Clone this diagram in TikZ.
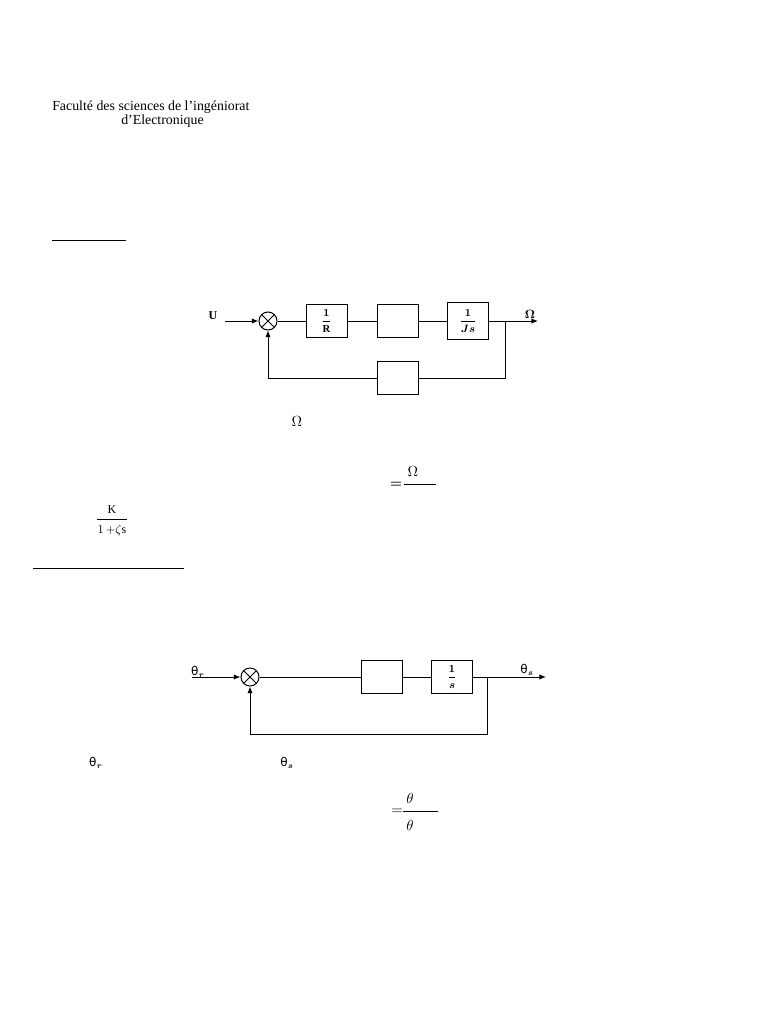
\documentclass[tikz,border=0pt]{standalone}
\usepackage{fontspec}
\usepackage{amsmath,bm}
\setmainfont{Liberation Serif}
\newfontfamily\djv{DejaVu Sans}
\usetikzlibrary{arrows.meta}
\begin{document}
\begin{tikzpicture}[x=0.75pt,y=-0.75pt,
  blk/.style={draw,line width=0.75pt,minimum width=30.75pt,minimum height=24.75pt,inner sep=0pt,font=\fontsize{8}{9}\selectfont},
  sumnode/.style={draw,circle,line width=0.75pt,minimum size=13.5pt,inner sep=0pt,
    path picture={\draw[line width=0.75pt] (path picture bounding box.south west)--(path picture bounding box.north east)
      (path picture bounding box.north west)--(path picture bounding box.south east);}},
  wire/.style={line width=0.75pt},
  sig/.style={line width=0.75pt,-{Latex[length=5pt,width=4pt]}},
  lbl/.style={inner sep=0pt,font=\fontsize{9}{10}\selectfont},
  txt/.style={inner sep=0pt,font=\fontsize{10.4}{12}\selectfont}]
\useasboundingbox (0,0) rectangle (768,1024);
\fill[white] (0,0) rectangle (768,1024);
% header
\node[txt,anchor=west] (h1) at (52,107) {Faculté des sciences de l’ingéniorat};
\node[txt,anchor=west] (h2) at (121,121) {d’Electronique};
\draw[line width=0.75pt] (52,240) -- (126,240);
% diagram 1
\node[lbl] (U) at (213,316) {$\bm{\mathrm{U}}$};
\coordinate (uin) at (225,321);
\node[sumnode] (s1) at (268,321) {};
\node[blk] (b1) at (326.5,321) {$\boldsymbol{\dfrac{1}{\mathrm{R}}}$};
\node[blk] (b2) at (397.5,321) {};
\node[blk,minimum height=27.75pt] (b3) at (468,321) {$\boldsymbol{\dfrac{1}{Js}}$};
\coordinate (br1) at (505,321);
\coordinate (out1) at (538,321);
\node[lbl] (Om) at (530,314) {$\bm{\Omega}$};
\node[blk] (b4) at (397.5,378) {};
\coordinate (c1) at (505,378);
\coordinate (c2) at (268,378);
\draw[sig] (uin) -- (s1.west);
\draw[wire] (s1.east) -- (b1.west);
\draw[wire] (b1.east) -- (b2.west);
\draw[wire] (b2.east) -- (b3.west);
\draw[sig] (b3.east) -- (out1);
\draw[wire] (br1) -- (c1) -- (b4.east);
\draw[sig] (b4.west) -- (c2) -- (s1.south);
% text 1
\node[inner sep=0pt,font=\fontsize{10.5}{12}\selectfont] (om2) at (297,422) {$\Omega$};
\node[inner sep=0pt,font=\fontsize{10}{10}\selectfont] (eq1) at (396,485) {$\bm{=}$};
\node[inner sep=0pt,font=\fontsize{10.5}{12}\selectfont] (om3) at (413,472) {$\Omega$};
\coordinate (f1a) at (404,484);
\coordinate (f1b) at (436,484);
\draw[line width=0.6pt] (f1a) -- (f1b);
\node[inner sep=0pt,font=\fontsize{9}{10}\selectfont] (K) at (112,510) {$\mathrm{K}$};
\coordinate (f2a) at (97,519);
\coordinate (f2b) at (127,519);
\draw[line width=0.6pt] (f2a) -- (f2b);
\node[inner sep=0pt,font=\fontsize{9}{10}\selectfont] (den) at (112,530) {$1\,{+}\zeta\mathrm{s}$};
\draw[line width=0.75pt] (33,568) -- (184,568);
% diagram 2
\node[lbl] (tr) at (198,672) {{\djv θ}$_{\bm{r}}$};
\coordinate (tin) at (192,677);
\node[sumnode] (s2) at (250,677) {};
\node[blk] (d1) at (381.5,677) {};
\node[blk] (d2) at (452,677) {$\boldsymbol{\dfrac{1}{s}}$};
\coordinate (br2) at (487,677);
\coordinate (out2) at (546,677);
\node[lbl] (ts) at (527,670) {{\djv θ}$_{\bm{s}}$};
\coordinate (e1) at (487,734);
\coordinate (e2) at (250,734);
\draw[sig] (tin) -- (s2.west);
\draw[wire] (s2.east) -- (d1.west);
\draw[wire] (d1.east) -- (d2.west);
\draw[sig] (d2.east) -- (out2);
\draw[sig] (br2) -- (e1) -- (e2) -- (s2.south);
% text 2
\node[lbl] (tr2) at (96,763) {{\djv θ}$_{\bm{r}}$};
\node[lbl] (ts2) at (287,763) {{\djv θ}$_{\bm{s}}$};
\node[inner sep=0pt,font=\fontsize{10.5}{12}\selectfont] (eq2) at (397,812) {$=$};
\node[inner sep=0pt,font=\fontsize{10.5}{12}\selectfont] (th1) at (410,798) {$\theta$};
\coordinate (f3a) at (403,811);
\coordinate (f3b) at (438,811);
\draw[line width=0.6pt] (f3a) -- (f3b);
\node[inner sep=0pt,font=\fontsize{10.5}{12}\selectfont] (th2) at (410,825) {$\theta$};
\end{tikzpicture}
\end{document}
